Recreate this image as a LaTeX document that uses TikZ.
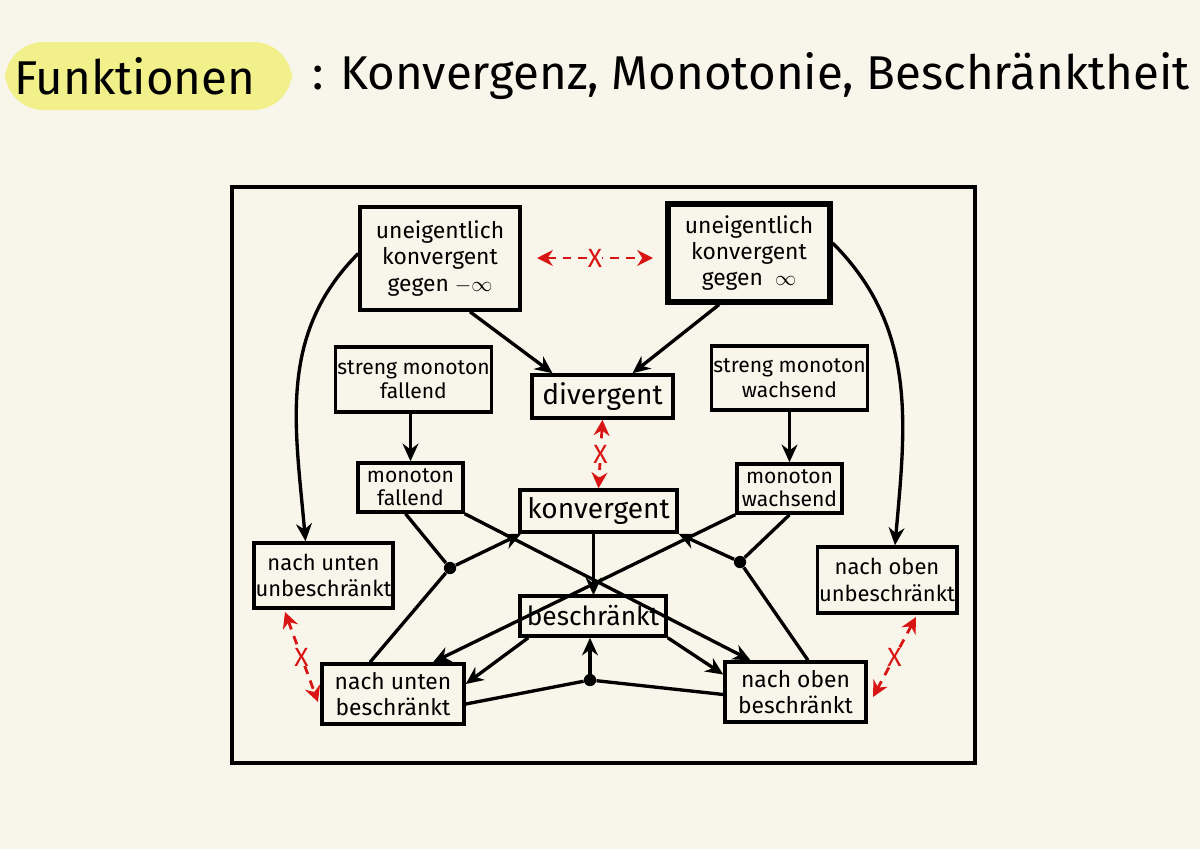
\documentclass[tikz,border=0pt]{standalone}
\usepackage{fontspec}
\setmainfont{Fira Sans}
\usetikzlibrary{arrows.meta}
\definecolor{bg}{HTML}{F8F6EA}
\definecolor{hl}{HTML}{F1F08A}
\definecolor{rd}{HTML}{D81414}
\tikzset{
 box/.style={draw=black, line width=2pt, align=center, inner sep=1pt, font=\fontsize{13}{15}\selectfont},
 conn/.style={line width=1.9pt, -{Stealth[length=10pt,width=9pt]}},
 plain/.style={line width=1.9pt},
 neg/.style={draw=rd, line width=1.6pt, dash pattern=on 5pt off 4pt, {Stealth[length=9pt,width=9pt]}-{Stealth[length=9pt,width=9pt]}},
 xmark/.style={text=rd, font=\fontsize{15}{15}\selectfont, inner sep=0pt, fill=bg},
 dot/.style={circle, fill=black, inner sep=0pt, minimum size=7pt},
 ttl/.style={font=\fontsize{27}{27}\selectfont, inner sep=0pt}
}
\begin{document}
\begin{tikzpicture}[x=0.02cm,y=-0.02cm]
\fill[bg] (0,0) rectangle (1200,849);
\useasboundingbox (0,0) rectangle (1200,849);
\fill[hl, rounded corners=22pt] (5,42) rectangle (292,110);
\node[ttl, anchor=west] (t1) at (14,76) {Funktionen};
\node[ttl, anchor=west] (t2) at (312,76) {: Konvergenz, Monotonie, Beschränktheit};
\draw[line width=2pt] (232,187) rectangle (975,763);

\node[box, minimum width=3.2cm, minimum height=2.06cm] (U1) at (440,258.5) {uneigentlich\\konvergent\\gegen $-\infty$};
\node[box, line width=3pt, minimum width=3.24cm, minimum height=1.96cm] (U2) at (749,253) {uneigentlich\\konvergent\\gegen \ $\infty$};
\node[box, minimum width=2.82cm, minimum height=0.86cm, font=\fontsize{16}{16}\selectfont] (div) at (602.5,396.5) {divergent};
\node[box, minimum width=3.06cm, minimum height=1.3cm, font=\fontsize{12}{14}\selectfont] (SF) at (413.5,379.5) {streng monoton\\fallend};
\node[box, minimum width=3.06cm, minimum height=1.28cm, font=\fontsize{12}{14}\selectfont] (SW) at (789.5,378) {streng monoton\\wachsend};
\node[box, minimum width=2.1cm, minimum height=0.98cm, font=\fontsize{12}{13}\selectfont] (MF) at (410.5,487.5) {monoton\\fallend};
\node[box, minimum width=2.1cm, minimum height=0.98cm, font=\fontsize{12}{13}\selectfont] (MW) at (789.5,488.5) {monoton\\wachsend};
\node[box, minimum width=3.14cm, minimum height=0.84cm, font=\fontsize{16}{16}\selectfont] (konv) at (598.5,511) {konvergent};
\node[box, minimum width=2.74cm, minimum height=1.3cm, font=\fontsize{12.5}{15}\selectfont] (NUU) at (323.5,575.5) {nach unten\\unbeschränkt};
\node[box, minimum width=2.76cm, minimum height=1.32cm, font=\fontsize{12.5}{15}\selectfont] (NOU) at (887,580) {nach oben\\unbeschränkt};
\node[box, minimum width=2.92cm, minimum height=0.8cm, font=\fontsize{15}{15}\selectfont] (besch) at (593,616) {beschränkt};
\node[box, minimum width=2.84cm, minimum height=1.2cm] (NUB) at (393,694) {nach unten\\beschränkt};
\node[box, minimum width=2.82cm, minimum height=1.2cm] (NOB) at (795.5,692) {nach oben\\beschränkt};

\node[dot] (D1) at (450,568) {};
\node[dot] (D2) at (740,562) {};
\node[dot] (D3) at (590,680) {};

\draw[conn] ([xshift=0.6cm]U1.south) -- ([xshift=-1cm]div.north);
\draw[conn] ([xshift=-0.6cm]U2.south) -- ([xshift=0.6cm]div.north);
\draw[conn] ([yshift=0.1cm]U1.west) to[out=225,in=95] ([xshift=-0.36cm]NUU.north);
\draw[conn] ([yshift=0.2cm]U2.east) to[out=-45,in=85] ([xshift=0.16cm]NOU.north);
\draw[conn] (SF.south -| MF.north) -- (MF.north);
\draw[conn] (SW.south -| MW.north) -- (MW.north);
\draw[plain] ([xshift=-0.1cm]MF.south) -- (D1);
\draw[plain] ([xshift=-0.46cm]NUB.north) -- (D1);
\draw[conn] (D1) -- ([xshift=-1.55cm]konv.south);
\draw[plain] ([xshift=0cm]MW.south) -- (D2);
\draw[plain] ([xshift=0.25cm]NOB.north) -- (D2);
\draw[conn] (D2) -- ([xshift=1.6cm]konv.south);
\draw[conn] (MF.south east) -- ([xshift=-0.9cm]NOB.north);
\draw[conn] (MW.south west) -- ([xshift=0.8cm]NUB.north);
\draw[conn] ([xshift=-0.1cm]konv.south) -- ([xshift=-0.1cm,yshift=-0.02cm]konv.south |- besch.north);
\draw[conn] ([xshift=0.2cm]besch.south west) -- ([yshift=0.2cm]NUB.east);
\draw[conn] (besch.south east) -- ([yshift=0.35cm]NOB.west);
\draw[plain] ([yshift=-0.2cm]NUB.east) -- (D3);
\draw[plain] ([yshift=-0.05cm]NOB.west) -- (D3);
\draw[conn] (D3) -- (D3 |- besch.south);
\draw[neg] (537,258) -- node[xmark]{X} (653,258);
\draw[neg] (div.south) -- node[xmark]{X} (konv.north);
\draw[neg] (285,612) -- node[xmark]{X} (318,702);
\draw[neg] (916,617) -- node[xmark]{X} (873,697);
\end{tikzpicture}
\end{document}
